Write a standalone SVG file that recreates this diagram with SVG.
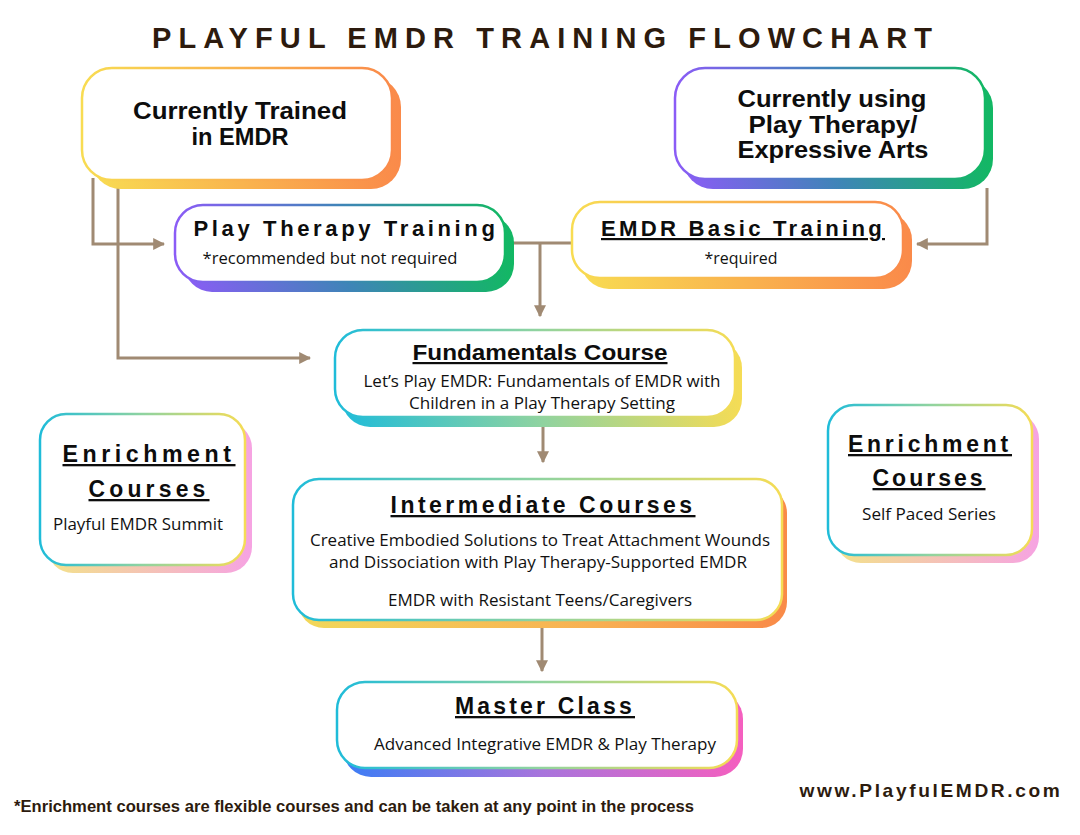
<svg xmlns="http://www.w3.org/2000/svg" width="1080" height="835" viewBox="0 0 1080 835">
<defs>
<linearGradient id="gYO" x1="0" y1="0" x2="1" y2="0"><stop offset="0" stop-color="#f8dc52"/><stop offset="1" stop-color="#fa8a4a"/></linearGradient>
<linearGradient id="gPG" x1="0" y1="0" x2="1" y2="0"><stop offset="0" stop-color="#8b5cf6"/><stop offset="0.5" stop-color="#3f84b8"/><stop offset="1" stop-color="#12b863"/></linearGradient>
<linearGradient id="gCY" x1="0" y1="0" x2="1" y2="0"><stop offset="0" stop-color="#1fbcd9"/><stop offset="0.5" stop-color="#8fd3a0"/><stop offset="1" stop-color="#f5dc55"/></linearGradient>
<linearGradient id="gInt" x1="0" y1="0" x2="1" y2="0"><stop offset="0" stop-color="#f2d85a"/><stop offset="0.6" stop-color="#f8b052"/><stop offset="1" stop-color="#f98a48"/></linearGradient>
<linearGradient id="gEnr" x1="0" y1="0" x2="1" y2="0"><stop offset="0" stop-color="#f3e28a"/><stop offset="1" stop-color="#f6a3e2"/></linearGradient>
<linearGradient id="gMas" x1="0" y1="0" x2="1" y2="0"><stop offset="0" stop-color="#3b7df5"/><stop offset="0.5" stop-color="#a874dc"/><stop offset="1" stop-color="#f55fbf"/></linearGradient>
<marker id="ah" viewBox="0 0 10 10" refX="9" refY="5" markerWidth="12" markerHeight="12" markerUnits="userSpaceOnUse" orient="auto"><path d="M0,0 L10,5 L0,10 z" fill="#a08a73"/></marker>
</defs>
<style>
.front{fill:#ffffff;stroke-width:2.5}
.big{font-family:"Liberation Sans",Arial,sans-serif;font-weight:700;font-size:24px;fill:#0d0d0d;text-anchor:middle}
.hd{font-family:"Liberation Sans",Arial,sans-serif;font-weight:700;font-size:22px;fill:#0d0d0d;text-anchor:middle}
.sp{font-size:23px}
.ul{text-decoration:underline}
.body{font-family:"Open Sans","Liberation Sans",sans-serif;font-size:16px;fill:#111111;text-anchor:middle}
.conn{fill:none;stroke:#a08a73;stroke-width:3}
.brown{font-family:"Liberation Sans",Arial,sans-serif;font-weight:700;fill:#2d1b0e}
</style>
<rect width="1080" height="835" fill="#ffffff"/>
<text class="brown" x="542" y="48" font-size="29" text-anchor="middle" textLength="780" lengthAdjust="spacing">PLAYFUL EMDR TRAINING FLOWCHART</text>

<g id="connectors">
<path class="conn" d="M93,178 V244 H164" marker-end="url(#ah)"/>
<path class="conn" d="M118,188 V358 H310" marker-end="url(#ah)"/>
<path class="conn" d="M987,188 V244 H917" marker-end="url(#ah)"/>
<path class="conn" d="M512,243 H572"/>
<path class="conn" d="M540,243 V316" marker-end="url(#ah)"/>
<path class="conn" d="M543,427 V462" marker-end="url(#ah)"/>
<path class="conn" d="M542,628 V671" marker-end="url(#ah)"/>
</g>

<g id="node-trained">
<rect x="91" y="77" width="310" height="112" rx="30" fill="url(#gYO)"/>
<rect class="front" x="82" y="68" width="310" height="112" rx="30" stroke="url(#gYO)"/>
<text class="big" x="240" y="119" textLength="214" lengthAdjust="spacingAndGlyphs">Currently Trained</text>
<text class="big" x="240" y="145" textLength="97" lengthAdjust="spacingAndGlyphs">in EMDR</text>
</g>

<g id="node-using">
<rect x="683" y="78" width="310" height="111" rx="30" fill="url(#gPG)"/>
<rect class="front" x="675" y="68" width="310" height="111" rx="30" stroke="url(#gPG)"/>
<text class="big" x="832" y="107" textLength="189" lengthAdjust="spacingAndGlyphs">Currently using</text>
<text class="big" x="833" y="133" textLength="169" lengthAdjust="spacingAndGlyphs">Play Therapy/</text>
<text class="big" x="833" y="158" textLength="191" lengthAdjust="spacingAndGlyphs">Expressive Arts</text>
</g>

<g id="node-playtherapy">
<rect x="184" y="215" width="330" height="77" rx="28" fill="url(#gPG)"/>
<rect class="front" x="175" y="205" width="330" height="77" rx="28" stroke="url(#gPG)"/>
<text class="hd" x="346" y="236" letter-spacing="3.6" textLength="305" lengthAdjust="spacingAndGlyphs">Play Therapy Training</text>
<text class="body" x="330" y="264" textLength="255" lengthAdjust="spacingAndGlyphs">*recommended but not required</text>
</g>

<g id="node-emdrbasic">
<rect x="581" y="212" width="331" height="77" rx="28" fill="url(#gYO)"/>
<rect class="front" x="572" y="202" width="331" height="76" rx="28" stroke="url(#gYO)"/>
<text class="hd ul" x="743" y="236" letter-spacing="3.2" textLength="284" lengthAdjust="spacingAndGlyphs">EMDR Basic Training</text>
<text class="body" x="741" y="264" textLength="73" lengthAdjust="spacingAndGlyphs">*required</text>
</g>

<g id="node-fundamentals">
<rect x="342" y="340" width="400" height="87" rx="28" fill="url(#gCY)"/>
<rect class="front" x="335" y="330" width="400" height="87" rx="28" stroke="url(#gCY)"/>
<text class="hd ul" x="540" y="360" textLength="255" lengthAdjust="spacingAndGlyphs">Fundamentals Course</text>
<text class="body" x="542" y="387" textLength="357" lengthAdjust="spacingAndGlyphs">Let’s Play EMDR: Fundamentals of EMDR with</text>
<text class="body" x="542" y="409" textLength="266" lengthAdjust="spacingAndGlyphs">Children in a Play Therapy Setting</text>
</g>

<g id="node-intermediate">
<rect x="298" y="487" width="489" height="141" rx="26" fill="url(#gInt)"/>
<rect class="front" x="293" y="479" width="489" height="141" rx="26" stroke="url(#gCY)"/>
<text class="hd sp ul" x="543" y="513" letter-spacing="3.5" textLength="305" lengthAdjust="spacingAndGlyphs">Intermediate Courses</text>
<text class="body" x="540" y="546" textLength="460" lengthAdjust="spacingAndGlyphs">Creative Embodied Solutions to Treat Attachment Wounds</text>
<text class="body" x="538" y="568" textLength="418" lengthAdjust="spacingAndGlyphs">and Dissociation with Play Therapy-Supported EMDR</text>
<text class="body" x="540" y="606" textLength="304" lengthAdjust="spacingAndGlyphs">EMDR with Resistant Teens/Caregivers</text>
</g>

<g id="node-master">
<rect x="343" y="691" width="400" height="86" rx="28" fill="url(#gMas)"/>
<rect class="front" x="337" y="682" width="400" height="86" rx="28" stroke="url(#gCY)"/>
<text class="hd sp ul" x="545" y="714" letter-spacing="3.2" textLength="180" lengthAdjust="spacingAndGlyphs">Master Class</text>
<text class="body" x="545" y="750" textLength="342" lengthAdjust="spacingAndGlyphs">Advanced Integrative EMDR &amp; Play Therapy</text>
</g>

<g id="node-enrichment-left">
<rect x="47" y="422" width="205" height="151" rx="26" fill="url(#gEnr)"/>
<rect class="front" x="40" y="414" width="205" height="151" rx="26" stroke="url(#gCY)"/>
<text class="hd sp ul" x="149" y="462" letter-spacing="4.5" textLength="173" lengthAdjust="spacingAndGlyphs">Enrichment</text>
<text class="hd sp ul" x="149" y="497" letter-spacing="4.2" textLength="121" lengthAdjust="spacingAndGlyphs">Courses</text>
<text class="body" x="138" y="530" textLength="170" lengthAdjust="spacingAndGlyphs">Playful EMDR Summit</text>
</g>

<g id="node-enrichment-right">
<rect x="835" y="413" width="204" height="150" rx="26" fill="url(#gEnr)"/>
<rect class="front" x="828" y="405" width="204" height="150" rx="26" stroke="url(#gCY)"/>
<text class="hd sp ul" x="930" y="452" letter-spacing="3.8" textLength="164" lengthAdjust="spacingAndGlyphs">Enrichment</text>
<text class="hd sp ul" x="929" y="486" letter-spacing="3" textLength="113" lengthAdjust="spacingAndGlyphs">Courses</text>
<text class="body" x="929" y="520" textLength="134" lengthAdjust="spacingAndGlyphs">Self Paced Series</text>
</g>

<text class="brown" x="931" y="797" font-size="19" text-anchor="middle" letter-spacing="2.6" textLength="263" lengthAdjust="spacingAndGlyphs">www.PlayfulEMDR.com</text>
<text class="brown" x="14" y="812" font-size="17" textLength="680" lengthAdjust="spacingAndGlyphs">*Enrichment courses are flexible courses and can be taken at any point in the process</text>
</svg>
